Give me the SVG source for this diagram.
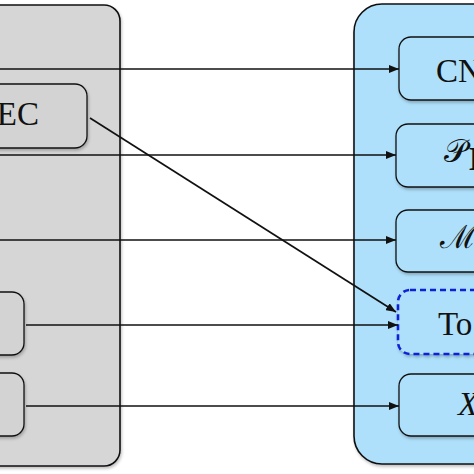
<svg xmlns="http://www.w3.org/2000/svg" width="474" height="474" viewBox="0 0 474 474">
<defs>
<style>
.panelL{fill:#d6d6d6;stroke:#111;stroke-width:1.6}
.panelR{fill:#aee0fb;stroke:#111;stroke-width:1.6}
.boxL{fill:#d3d3d3;stroke:#111;stroke-width:1.3}
.boxR{fill:#aee0fb;stroke:#111;stroke-width:1.3}
.dash{fill:#aee0fb;stroke:#1020d8;stroke-width:2.6;stroke-dasharray:6 4}
.lbl{font-family:"Liberation Serif","DejaVu Serif",serif;font-size:33px;fill:#111}
.scr{font-family:"DejaVu Serif","Liberation Serif",serif;font-size:32px;fill:#111}
.conn{stroke:#111;stroke-width:1.7;fill:none;marker-end:url(#arr)}
</style>
<marker id="arr" viewBox="0 0 10 8" refX="10" refY="4" markerWidth="10" markerHeight="8" markerUnits="userSpaceOnUse" orient="auto">
<path d="M0,0 L10,4 L0,8 Z" fill="#111"/>
</marker>
<filter id="sh" x="-10%" y="-10%" width="130%" height="140%">
<feDropShadow dx="1" dy="2" stdDeviation="1.5" flood-color="#000" flood-opacity="0.25"/>
</filter>
</defs>
<g id="left-panel">
<rect class="panelL" x="-150" y="5" width="270" height="461" rx="16" filter="url(#sh)"/>
</g>
<g id="right-panel">
<rect class="panelR" x="354" y="4" width="300" height="460" rx="28" filter="url(#sh)"/>
</g>
<g id="node-ec">
<rect class="boxL" x="-60" y="84" width="147" height="64" rx="12" filter="url(#sh)"/>
<text class="lbl" x="39" y="125" text-anchor="end">EC</text>
</g>
<g id="node-l1">
<rect class="boxL" x="-60" y="292" width="84" height="63" rx="12" filter="url(#sh)"/>
</g>
<g id="node-l2">
<rect class="boxL" x="-60" y="373" width="84" height="63" rx="12" filter="url(#sh)"/>
</g>
<g id="node-cn">
<rect class="boxR" x="399" y="37" width="120" height="63" rx="12" filter="url(#sh)"/>
<text class="lbl" x="436" y="82">CN</text>
</g>
<g id="node-p">
<rect class="boxR" x="396" y="124" width="120" height="63" rx="12" filter="url(#sh)"/>
<text class="scr" x="444" y="162">𝒫</text>
<text class="lbl" x="469" y="170" font-weight="bold" font-size="20">B</text>
</g>
<g id="node-m">
<rect class="boxR" x="396" y="210" width="120" height="62" rx="12" filter="url(#sh)"/>
<text class="scr" x="440" y="248">ℳ</text>
</g>
<g id="node-to">
<rect class="dash" x="398" y="290" width="120" height="64" rx="12" filter="url(#sh)"/>
<text class="lbl" x="438" y="335">To</text>
</g>
<g id="node-x">
<rect class="boxR" x="399" y="374" width="120" height="62" rx="12" filter="url(#sh)"/>
<text class="lbl" x="458" y="415" font-style="italic">X</text>
</g>
<g id="connectors">
<line class="conn" x1="-2" y1="69" x2="399" y2="69"/>
<line class="conn" x1="-2" y1="155" x2="396" y2="155"/>
<line class="conn" x1="-2" y1="240" x2="396" y2="240"/>
<line class="conn" x1="90" y1="118" x2="396" y2="312"/>
<line class="conn" x1="26" y1="325" x2="398" y2="325"/>
<line class="conn" x1="26" y1="406" x2="399" y2="406"/>
</g>
</svg>
